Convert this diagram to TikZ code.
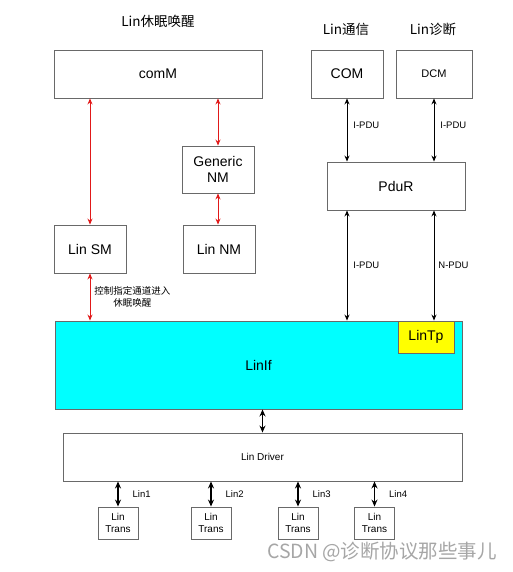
\documentclass[tikz,border=0pt]{standalone}
\usepackage{fontspec}
\setmainfont{Liberation Sans}
\newfontfamily\cjk{Noto Sans CJK SC}
\usetikzlibrary{arrows.meta}

\definecolor{linred}{RGB}{225,25,25}
\definecolor{boxgray}{RGB}{105,105,105}
\definecolor{ifcyan}{RGB}{0,255,255}
\definecolor{tpyellow}{RGB}{255,255,0}
\tikzset{
  blk/.style={draw=boxgray, line width=0.9pt, inner sep=0pt, align=center, font=\fontsize{14}{16}\selectfont},
  smallblk/.style={blk, font=\fontsize{10}{11.5}\selectfont},
  lnk/.style={line width=0.8pt, {Stealth[length=6pt,width=5pt]}-{Stealth[length=6pt,width=5pt]}},
  thicklnk/.style={line width=1.3pt, {Stealth[length=7pt,width=6pt]}-{Stealth[length=7pt,width=6pt]}},
  redlnk/.style={lnk, draw=linred},
  lbl/.style={font=\fontsize{9.5}{11}\selectfont, inner sep=1pt},
  ttl/.style={font=\cjk\fontsize{13.5}{16}\selectfont},
}

\begin{document}
\begin{tikzpicture}[x=1pt,y=-1pt]
\useasboundingbox (0,0) rectangle (513,572);
% titles
\node[ttl] (tSleep) at (158,21) {Lin休眠唤醒};
\node[ttl] (tCom) at (346,29) {Lin通信};
\node[ttl] (tDiag) at (433,29) {Lin诊断};
% upper layer
\node[blk, minimum width=208pt, minimum height=48pt] (comM) at (158,74) {comM};
\node[blk, minimum width=72pt, minimum height=48pt] (COM) at (347,74) {COM};
\node[smallblk, minimum width=76pt, minimum height=48pt, font=\fontsize{11}{13}\selectfont] (DCM) at (434,74) {DCM};
\node[blk, minimum width=72pt, minimum height=47pt] (GenNM) at (218,169.5) {Generic\\NM};
\node[blk, minimum width=138pt, minimum height=48pt] (PduR) at (396,186) {PduR};
\node[blk, minimum width=72pt, minimum height=48pt] (LinSM) at (90,249) {Lin SM};
\node[blk, minimum width=72pt, minimum height=48pt] (LinNM) at (219,249) {Lin NM};
% interface layer
\node[blk, fill=ifcyan, minimum width=407pt, minimum height=88pt] (LinIf) at (258.5,365) {\raisebox{-8pt}{LinIf}};
\node[blk, fill=tpyellow, minimum width=56pt, minimum height=32pt] (LinTp) at (426,337) {LinTp};
\node[smallblk, minimum width=399pt, minimum height=48pt] (LinDrv) at (262.5,457) {Lin Driver};
% red links
\draw[redlnk] (comM.south -| GenNM.north) -- (GenNM.north);
\draw[redlnk] (LinSM.north) -- (LinSM.north |- comM.south);
\draw[redlnk] (GenNM.south) -- (GenNM.south |- LinNM.north);
\draw[redlnk] (LinSM.south) -- (LinSM.south |- LinIf.north)
  node[midway, right=3pt, align=center, inner sep=1pt, font=\cjk\fontsize{9.5}{12}\selectfont] (ctlLbl) {控制指定通道进入\\休眠唤醒};
% pdu links
\draw[lnk] (COM.south) -- (COM.south |- PduR.north) node[lbl, pos=0.42, right=5pt] (ipduA) {I-PDU};
\draw[lnk] (DCM.south) -- (DCM.south |- PduR.north) node[lbl, pos=0.42, right=5pt] (ipduB) {I-PDU};
\draw[lnk] (PduR.south -| COM.south) -- (LinIf.north -| COM.south) node[lbl, pos=0.5, right=5pt] (ipduC) {I-PDU};
\draw[lnk] (PduR.south -| DCM.south) -- (LinIf.north -| DCM.south) node[lbl, pos=0.5, right=3pt] (npdu) {N-PDU};
\draw[thicklnk] (LinDrv.north) -- (LinDrv.north |- LinIf.south);
% transceivers
\foreach \i/\x in {1/118,2/211,3/298,4/374.5} {
  \node[smallblk, minimum width=40pt, minimum height=32pt] (trans\i) at (\x,523) {Lin\\Trans};
  \draw[thicklnk] (trans\i.north) -- (trans\i.north |- LinDrv.south) node[lbl, midway, right=13pt] (lin\i) {Lin\i};
}
% watermark
\node[font=\cjk\fontsize{19.5}{22}\selectfont, text=black!35] (csdn) at (382,552) {CSDN @诊断协议那些事儿};
\end{tikzpicture}
\end{document}
